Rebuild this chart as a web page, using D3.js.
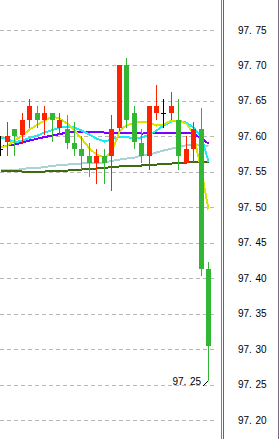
<!DOCTYPE html>
<html><head><meta charset="utf-8">
<script src="https://cdn.jsdelivr.net/npm/d3@7"></script>
<style>html,body{margin:0;padding:0;background:#fff;overflow:hidden}</style>
</head><body>
<svg id="c" width="280" height="439"></svg>
<script>
// ---- data ----
const opens  = [97.5825, 97.5925, 97.61, 97.6025, 97.6225, 97.6325, 97.6225, 97.6325, 97.6125, 97.61, 97.59, 97.5825, 97.5725, 97.5625, 97.5725, 97.5725, 97.6125, 97.70, 97.6325, 97.59, 97.5725, 97.6325, 97.6325, 97.6325, 97.6225, 97.5625, 97.5825, 97.61, 97.4125];
const highs  = [97.60, 97.62, 97.61, 97.6325, 97.6525, 97.6425, 97.6425, 97.6325, 97.6325, 97.63, 97.62, 97.60, 97.59, 97.5825, 97.5825, 97.63, 97.70, 97.71, 97.6425, 97.61, 97.6425, 97.6725, 97.6525, 97.6625, 97.6525, 97.60, 97.62, 97.64, 97.4225];
const lows   = [97.5725, 97.5725, 97.5725, 97.59, 97.6125, 97.6125, 97.6025, 97.5925, 97.6025, 97.5825, 97.5725, 97.5525, 97.5425, 97.5325, 97.5325, 97.5225, 97.6075, 97.6125, 97.5825, 97.5625, 97.5525, 97.6225, 97.6125, 97.6225, 97.5525, 97.5625, 97.5625, 97.4025, 97.255];
const closes = [97.5825, 97.60, 97.60, 97.6225, 97.6425, 97.6225, 97.6325, 97.6225, 97.6225, 97.59, 97.5825, 97.5725, 97.5625, 97.5725, 97.5625, 97.61, 97.70, 97.6225, 97.5925, 97.5725, 97.6425, 97.6425, 97.6325, 97.6425, 97.5725, 97.5825, 97.61, 97.4125, 97.305];

const maYellow = [97.5842, 97.5870, 97.5941, 97.6011, 97.6096, 97.6166, 97.6223, 97.6279, 97.6251, 97.6180, 97.6082, 97.5969, 97.5828, 97.5744, 97.5701, 97.5772, 97.6068, 97.6159, 97.6187, 97.6208, 97.6194, 97.6152, 97.6166, 97.6223, 97.6223, 97.6180, 97.6039, 97.5504, 97.4969];
const maCyan   = [97.5983, 97.5962, 97.5913, 97.5941, 97.5976, 97.6011, 97.6054, 97.6089, 97.6124, 97.6138, 97.6124, 97.6082, 97.6025, 97.5969, 97.5927, 97.5955, 97.5997, 97.5990, 97.5969, 97.5983, 97.6025, 97.6082, 97.6152, 97.6208, 97.6223, 97.6194, 97.6124, 97.5983, 97.5645];
const maPurple = [97.5849, 97.5870, 97.5885, 97.5913, 97.5941, 97.5969, 97.5990, 97.6011, 97.6032, 97.6054, 97.6061, 97.6068, 97.6068, 97.6061, 97.6054, 97.6046, 97.6054, 97.6054, 97.6054, 97.6039, 97.6046, 97.6049, 97.6049, 97.6049, 97.6049, 97.6049, 97.6039, 97.5969, 97.5899];
const maLight  = [97.5525, 97.5525, 97.5525, 97.5539, 97.5553, 97.5553, 97.5568, 97.5582, 97.5596, 97.5603, 97.5610, 97.5617, 97.5624, 97.5624, 97.5631, 97.5652, 97.5673, 97.5687, 97.5701, 97.5730, 97.5744, 97.5772, 97.5800, 97.5828, 97.5849, 97.5877, 97.5885, 97.5870, 97.5863];
const maDark   = [97.5518, 97.5518, 97.5511, 97.5504, 97.5504, 97.5504, 97.5504, 97.5511, 97.5518, 97.5518, 97.5525, 97.5532, 97.5539, 97.5546, 97.5553, 97.5568, 97.5575, 97.5582, 97.5582, 97.5589, 97.5596, 97.5603, 97.5610, 97.5617, 97.5624, 97.5631, 97.5638, 97.5645, 97.5645];

const tickValues = [97.20, 97.25, 97.30, 97.35, 97.40, 97.45, 97.50, 97.55, 97.60, 97.65, 97.70, 97.75];
const lowLabel = "97.25";

// ---- drawing ----
const svg = d3.select("#c");
const n = opens.length;
const x = d3.scaleLinear().domain([0, n - 1]).range([0, 208.6]);
const y = d3.scaleLinear().domain([97.20, 97.75]).range([420, 30]);
const col = i => Math.floor(x(i));

// grid
const grid = svg.append("g");
tickValues.forEach(v => {
  const yy = Math.round(y(v)) + 0.5;
  grid.append("line").attr("x1", 0).attr("x2", 214).attr("y1", yy).attr("y2", yy)
    .attr("stroke", "#b8b8b8").attr("stroke-width", 1).attr("stroke-dasharray", "4,3");
});

// moving averages
const line = d3.line().x((d, i) => col(i) + 0.5).y(d => y(d));
const mas = [
  [maLight, "#a9d3d6"],
  [maDark, "#3e6b12"],
  [maPurple, "#7a00ff"],
  [maCyan, "#1de9f2"],
  [maYellow, "#d6e400"]
];
const gl = svg.append("g");
mas.forEach(([arr, c]) => {
  gl.append("path").attr("d", line(arr)).attr("fill", "none")
    .attr("stroke", c).attr("stroke-width", 2).attr("shape-rendering", "crispEdges")
    .attr("stroke-linejoin", "round");
});

// candles
const gc = svg.append("g").attr("shape-rendering", "crispEdges");
d3.range(n).forEach(i => {
  const o = opens[i], c = closes[i], h = highs[i], l = lows[i];
  const color = c > o ? "#ff2200" : (c < o ? "#33b633" : "#000000");
  const cx = col(i);
  const wt = Math.round(y(h)), wb = Math.round(y(l));
  gc.append("rect").attr("x", cx).attr("y", wt).attr("width", 1).attr("height", Math.max(1, wb - wt)).attr("fill", color);
  const bt = Math.round(y(Math.max(o, c))), bb = Math.round(y(Math.min(o, c)));
  gc.append("rect").attr("x", cx - 2).attr("y", bt).attr("width", 5).attr("height", Math.max(1, bb - bt)).attr("fill", color);
});

// separators
svg.append("rect").attr("x", 221).attr("y", 0).attr("width", 1).attr("height", 439).attr("fill", "#8a8a2a");
svg.append("rect").attr("x", 223).attr("y", 0).attr("width", 1).attr("height", 439).attr("fill", "#2a7f86");
svg.append("rect").attr("x", 278).attr("y", 0).attr("width", 1).attr("height", 439).attr("fill", "#7d6688");

// axis labels
function splitLabel(sel, s) {
  const k = s.indexOf(".") + 1;
  sel.text(null);
  sel.append("tspan").text(s.slice(0, k));
  sel.append("tspan").attr("dx", 3.5).text(s.slice(k));
}
const fmt = d3.format(".2f");
const axis = d3.axisRight(y).tickValues(tickValues).tickSize(0).tickPadding(0).tickFormat(fmt);
const ga = svg.append("g").attr("transform", "translate(238,0)").call(axis);
ga.select(".domain").remove();
ga.selectAll("text").attr("fill", "#000").attr("font-family", "'Liberation Sans', Arial, sans-serif")
  .attr("font-size", 10).attr("dy", "0.3em")
  .each(function(d) { splitLabel(d3.select(this), fmt(d)); });

// low marker
const li = lows.indexOf(d3.min(lows));
const lx = col(li), ly = y(lows[li]);
svg.append("line").attr("x1", lx - 5).attr("y1", ly + 5).attr("x2", lx).attr("y2", ly)
  .attr("stroke", "#000").attr("stroke-width", 1);
const lt = svg.append("text").attr("x", lx - 7).attr("y", ly + 3.5).attr("text-anchor", "end")
  .attr("font-family", "'Liberation Sans', Arial, sans-serif").attr("font-size", 10).attr("fill", "#000");
splitLabel(lt, lowLabel);
</script>
</body></html>
